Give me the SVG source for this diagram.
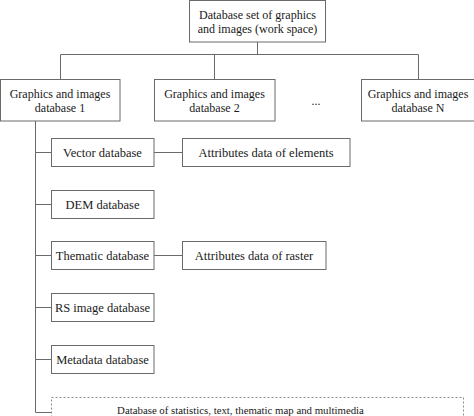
<svg xmlns="http://www.w3.org/2000/svg" width="474" height="416" viewBox="0 0 474 416">
<style>
.box{fill:#fff;stroke:#6a6a6a;stroke-width:1}
.dash{fill:#fff;stroke:#8a8a8a;stroke-width:1;stroke-dasharray:2,2}
.ln{fill:none;stroke:#6a6a6a;stroke-width:1}
text{font-family:"Liberation Serif","Times New Roman",serif;font-size:12px;fill:#1a1a1a;text-anchor:middle}
.s{font-size:12.5px}
.d{font-size:10.8px}
</style>
<rect width="474" height="416" fill="#fff"/>
<g id="connectors">
<path class="ln" d="M257.5 42V54.5M60.5 54.5H418.5M60.5 54.5V79M214.5 54.5V79M418.5 54.5V79"/>
<path class="ln" d="M35.5 121V412.5M35.5 152.5H51M35.5 204.5H51M35.5 255.5H51M35.5 307.5H51M35.5 359.5H51M35.5 412.5H51"/>
<path class="ln" d="M154 152.5H182M154 255.5H182"/>
</g>
<g id="root"><rect class="box" x="189.5" y="0.5" width="136" height="41.5"/><text x="257.5" y="18.5">Database set of graphics</text><text x="257.5" y="33">and images (work space)</text></g>
<g id="db1"><rect class="box" x="0.5" y="79.5" width="119.5" height="41.5"/><text x="60" y="97.5">Graphics and images</text><text x="60" y="112">database 1</text></g>
<g id="db2"><rect class="box" x="154.5" y="79.5" width="120.5" height="41.5"/><text x="214.5" y="97.5">Graphics and images</text><text x="214.5" y="112">database 2</text></g>
<g id="ellipsis"><text x="316" y="105">...</text></g>
<g id="dbN"><rect class="box" x="361.5" y="79.5" width="114" height="41.5"/><text x="418" y="97.5">Graphics and images</text><text x="418" y="112">database N</text></g>
<g id="vector"><rect class="box" x="51.5" y="138.5" width="102.5" height="28"/><text class="s" x="102.5" y="156.5">Vector database</text></g>
<g id="attr-elements"><rect class="box" x="182.5" y="138.5" width="167.5" height="28"/><text class="s" x="266" y="156.5">Attributes data of elements</text></g>
<g id="dem"><rect class="box" x="51.5" y="190.5" width="102.5" height="28"/><text class="s" x="102.5" y="208.5">DEM database</text></g>
<g id="thematic"><rect class="box" x="51.5" y="241.5" width="102.5" height="28"/><text class="s" x="102.5" y="259.5">Thematic database</text></g>
<g id="attr-raster"><rect class="box" x="182.5" y="241.5" width="143.5" height="28"/><text class="s" x="254" y="259.5">Attributes data of raster</text></g>
<g id="rs"><rect class="box" x="51.5" y="293.5" width="102.5" height="28"/><text class="s" x="102.5" y="311.5">RS image database</text></g>
<g id="metadata"><rect class="box" x="51.5" y="345.5" width="102.5" height="28"/><text class="s" x="102.5" y="363.5">Metadata database</text></g>
<g id="stats"><rect class="dash" x="51.5" y="397.5" width="412" height="30"/><text class="d" x="240.5" y="414">Database of statistics, text, thematic map and multimedia</text></g>
</svg>
